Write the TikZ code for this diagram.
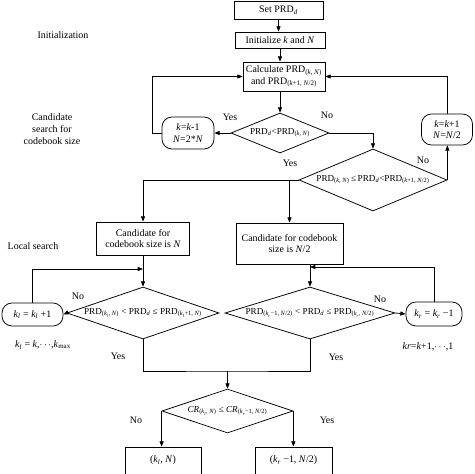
\documentclass[tikz,border=0pt]{standalone}
\usepackage{fontspec}
\setmainfont{Liberation Serif}
\usetikzlibrary{shapes.geometric, arrows.meta, positioning}

\begin{document}
\begin{tikzpicture}[x=0.03cm, y=-0.03cm, font=\fontsize{8.5}{10}\selectfont, line width=0.65pt,
    process/.style={draw, align=center, inner sep=1pt},
    decision/.style={draw, diamond, inner sep=0pt},
    loopbox/.style={draw, rounded corners=3mm, align=center, inner sep=1pt},
    flow/.style={-{Triangle[length=4.5pt,width=3.5pt]}},
    tag/.style={inner sep=1pt, align=center},
    every label/.style={font=\fontsize{7.8}{9}\selectfont, inner sep=0pt}]
        \useasboundingbox (0,0) rectangle (474,474);

        % stage labels
        \node[tag] (stage1) at (63,35) {Initialization};
        \node[tag] (stage2) at (52,129) {Candidate\\search for\\codebook size};
        \node[tag] (stage3) at (33,246) {Local search};

        % initialization
        \node[process, minimum width=2.67cm, minimum height=0.54cm] (setprd) at (278.5,10) {Set PRD\textsubscript{\textit{d}}};
        \node[process, minimum width=2.7cm, minimum height=0.48cm] (init) at (280,40) {Initialize \textit{k} and \textit{N}};
        \node[process, minimum width=2.46cm, minimum height=0.87cm] (calc) at (284,76.5) {Calculate PRD\textsubscript{(\textit{k}, \textit{N})}\\and PRD\textsubscript{(\textit{k}+1, \textit{N}/2)}};

        % candidate search
        \node[decision, minimum width=2.94cm, minimum height=1.2cm, label=center:{PRD\textsubscript{\textit{d}}<PRD\textsubscript{(\textit{k}, \textit{N})}}] (dia1) at (280,133) {};
        \node[loopbox, minimum width=1.56cm, minimum height=0.96cm] (dec) at (188,133) {\textit{k}=\textit{k}-1\\\textit{N}=2*\textit{N}};
        \node[loopbox, minimum width=1.53cm, minimum height=0.93cm] (inc) at (447,129.5) {\textit{k}=\textit{k}+1\\\textit{N}=\textit{N}/2};
        \node[decision, minimum width=4.44cm, minimum height=1.86cm, label=center:{PRD\textsubscript{(\textit{k}, \textit{N})}\,≤\,PRD\textsubscript{\textit{d}}<PRD\textsubscript{(\textit{k}+1, \textit{N}/2)}}] (dia2) at (373,180) {};

        \node[process, minimum width=2.79cm, minimum height=0.99cm] (candN) at (143,238.5) {Candidate for\\codebook size is \textit{N}};
        \node[process, minimum width=3.21cm, minimum height=1.23cm] (candH) at (289.5,243.5) {Candidate for codebook\\size is \textit{N}/2};

        % local search
        \node[decision, minimum width=4.56cm, minimum height=1.56cm, label=center:{PRD\textsubscript{(\textit{k\textsubscript{l}}, \textit{N})} < PRD\textsubscript{\textit{d}} ≤ PRD\textsubscript{(\textit{k\textsubscript{l}}+1, \textit{N})}}] (diaL) at (143,313) {};
        \node[decision, minimum width=5.1cm, minimum height=1.56cm, label=center:{PRD\textsubscript{(\textit{k\textsubscript{r}}−1, \textit{N}/2)} < PRD\textsubscript{\textit{d}} ≤ PRD\textsubscript{(\textit{k\textsubscript{r}}, \textit{N}/2)}}] (diaR) at (310,313) {};
        \node[loopbox, minimum width=1.83cm, minimum height=0.69cm] (klbox) at (32.5,314.5) {\textit{k\textsubscript{l}} = \textit{k\textsubscript{l}} +1};
        \node[loopbox, minimum width=1.68cm, minimum height=0.72cm] (krbox) at (434,314) {\textit{k\textsubscript{r}} = \textit{k\textsubscript{r}} −1};
        \node[tag] (klrange) at (43,345) {\textit{k\textsubscript{l}} = \textit{k},$\cdots$,\textit{k}\textsubscript{max}};
        \node[tag] (krrange) at (428,347) {\textit{kr}=\textit{k}+1,$\cdots$,1};

        % final choice
        \node[decision, minimum width=3.93cm, minimum height=1.32cm, label=center:{\textit{CR}\textsubscript{(\textit{k\textsubscript{l}}, \textit{N})} ≤ \textit{CR}\textsubscript{(\textit{k\textsubscript{r}}−1, \textit{N}/2)}}] (dia3) at (227.5,411) {};
        \node[process, minimum width=2.28cm, minimum height=0.81cm] (outL) at (163,460.5) {(\textit{k\textsubscript{l}}, \textit{N})};
        \node[process, minimum width=2.31cm, minimum height=0.81cm] (outR) at (293.5,460.5) {(\textit{k\textsubscript{r}} −1, \textit{N}/2)};

        \coordinate (jl) at (143,269);
        \coordinate (jr) at (310,267);
        \coordinate (mrg) at (227.5,371);

        % connectors
        \draw[flow] (setprd.south) -- (setprd.south |- init.north);
        \draw[flow] (init.south) -- (init.south |- calc.north);
        \draw[flow] (dia1.north |- calc.south) -- (dia1.north);
        \draw[flow] (dia1.west) -- (dec.east);
        \draw[flow] (dec.west) -- ++(-9,0) |- (calc.west);
        \draw[flow] (dia1.east) -| (dia2.north);
        \draw[flow] (dia2.east) -- (dia2.east |- inc.south);
        \draw[flow] (inc.north) |- (calc.east);
        \draw[flow] (dia2.west) -| (candN.north);
        \draw[flow] (candH.north |- dia2.west) -- (candH.north);

        \draw[flow] (candN.south) -- (diaL.north);
        \draw[flow] (klbox.north) |- (jl);
        \draw[flow] (diaL.west) -- (klbox.east);
        \draw[flow] (diaR.north |- candH.south) -- (diaR.north);
        \draw[flow] (krbox.north) |- (jr);
        \draw[flow] (diaR.east) -- (krbox.west);

        \draw (diaL.south) |- (mrg) -| (diaR.south);
        \draw[flow] (mrg) -- (dia3.north);
        \draw[flow] (dia3.west) -- (dia3.west |- outL.north);
        \draw[flow] (dia3.east) -- (dia3.east |- outR.north);

        % branch labels
        \node[tag] (y1) at (230,117) {Yes};
        \node[tag] (n1) at (327,115) {No};
        \node[tag] (y2) at (290,163) {Yes};
        \node[tag] (n2) at (423,160) {No};
        \node[tag] (n3) at (78,296) {No};
        \node[tag] (n4) at (380,299) {No};
        \node[tag] (y3) at (118,356) {Yes};
        \node[tag] (y4) at (336,357) {Yes};
        \node[tag] (n5) at (136,420) {No};
        \node[tag] (y5) at (327,420) {Yes};
\end{tikzpicture}
\end{document}
